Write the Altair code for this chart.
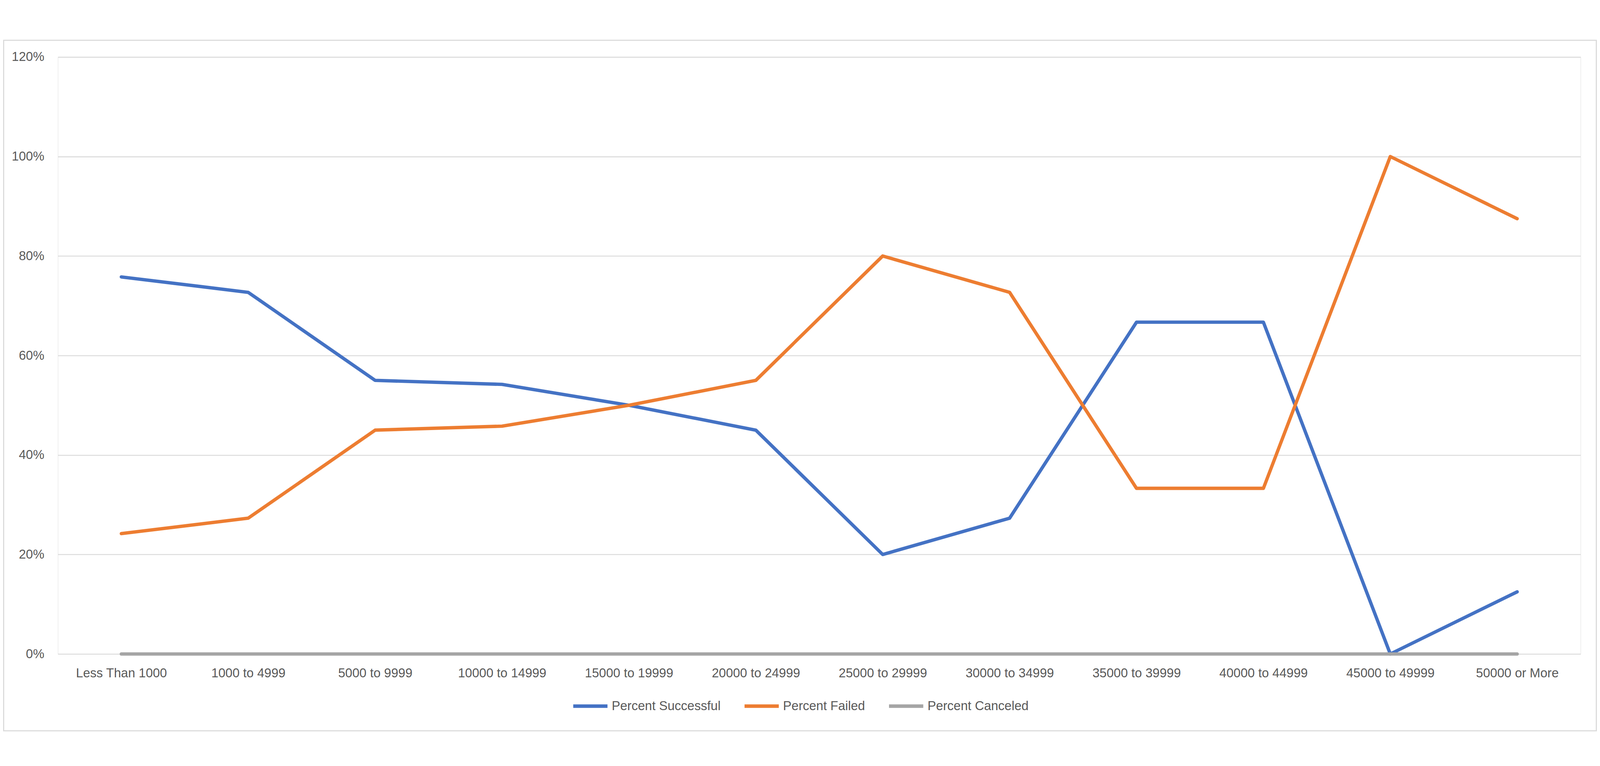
import altair as alt
import pandas as pd

categories = ["Less Than 1000", "1000 to 4999", "5000 to 9999", "10000 to 14999",
              "15000 to 19999", "20000 to 24999", "25000 to 29999", "30000 to 34999",
              "35000 to 39999", "40000 to 44999", "45000 to 49999", "50000 or More"]
pct_successful = [0.758, 0.727, 0.550, 0.542, 0.500, 0.450, 0.200, 0.273, 0.667, 0.667, 0.000, 0.125]
pct_failed = [0.242, 0.273, 0.450, 0.458, 0.500, 0.550, 0.800, 0.727, 0.333, 0.333, 1.000, 0.875]
pct_canceled = [0.0] * 12

series_names = ["Percent Successful", "Percent Failed", "Percent Canceled"]
series_colors = ["#4472C4", "#ED7D31", "#A5A5A5"]

rows = []
for i, (name, vals) in enumerate(zip(series_names, [pct_successful, pct_failed, pct_canceled])):
    for c, v in zip(categories, vals):
        rows.append({"Goal": c, "Series": name, "Value": v, "idx": i})
df = pd.DataFrame(rows)

FONT = "Liberation Sans, Arial, sans-serif"
TXT = "#595959"
W, H = 4311, 1690
PAD = {"left": 155, "top": 49, "right": 46, "bottom": 219}

lines = alt.Chart(df).mark_line(strokeWidth=9.5, strokeCap="round", strokeJoin="round").encode(
    x=alt.X("Goal:N", sort=categories, title=None,
            scale=alt.Scale(type="point", padding=0.5),
            axis=alt.Axis(labelAngle=0, ticks=False, domain=False, grid=False,
                          labelPadding=38, labelLimit=0,
                          labelFontSize=36, labelColor=TXT, labelFont=FONT)),
    y=alt.Y("Value:Q", title=None,
            scale=alt.Scale(domain=[0, 1.2], nice=False),
            axis=alt.Axis(format=".0%", values=[0, 0.2, 0.4, 0.6, 0.8, 1.0, 1.2],
                          ticks=False, domain=False, grid=True, gridColor="#D9D9D9",
                          gridWidth=2.5, labelPadding=39, labelFontSize=36, labelLimit=0,
                          labelColor=TXT, labelFont=FONT)),
    color=alt.Color("Series:N", sort=series_names,
                    scale=alt.Scale(domain=series_names, range=series_colors),
                    legend=alt.Legend(title=None, orient="none", direction="horizontal",
                                      legendX=1454, legendY=1784,
                                      symbolType="stroke", symbolSize=9400,
                                      symbolStrokeWidth=10, labelFontSize=36, labelLimit=0,
                                      labelColor=TXT, labelFont=FONT, labelOffset=7,
                                      columnPadding=47)),
    order=alt.Order("idx:Q")
)

# light outer frame of the chart area (decoration only)
frame = alt.Chart(pd.DataFrame({"f": [0]})).mark_rect(
    fill=None, stroke="#D9D9D9", strokeWidth=3
).encode(
    x=alt.value(-PAD["left"] + 1.5), x2=alt.value(W + PAD["right"] - 1.5),
    y=alt.value(-PAD["top"] + 1.5), y2=alt.value(H + PAD["bottom"] - 1.5)
)

chart = alt.layer(frame, lines).properties(
    width=W, height=H,
    padding=PAD,
    autosize=alt.AutoSizeParams(type="none")
).configure_view(stroke=None).configure(background="white")

chart.save("out.html", embed_options={"renderer": "svg", "actions": False})
